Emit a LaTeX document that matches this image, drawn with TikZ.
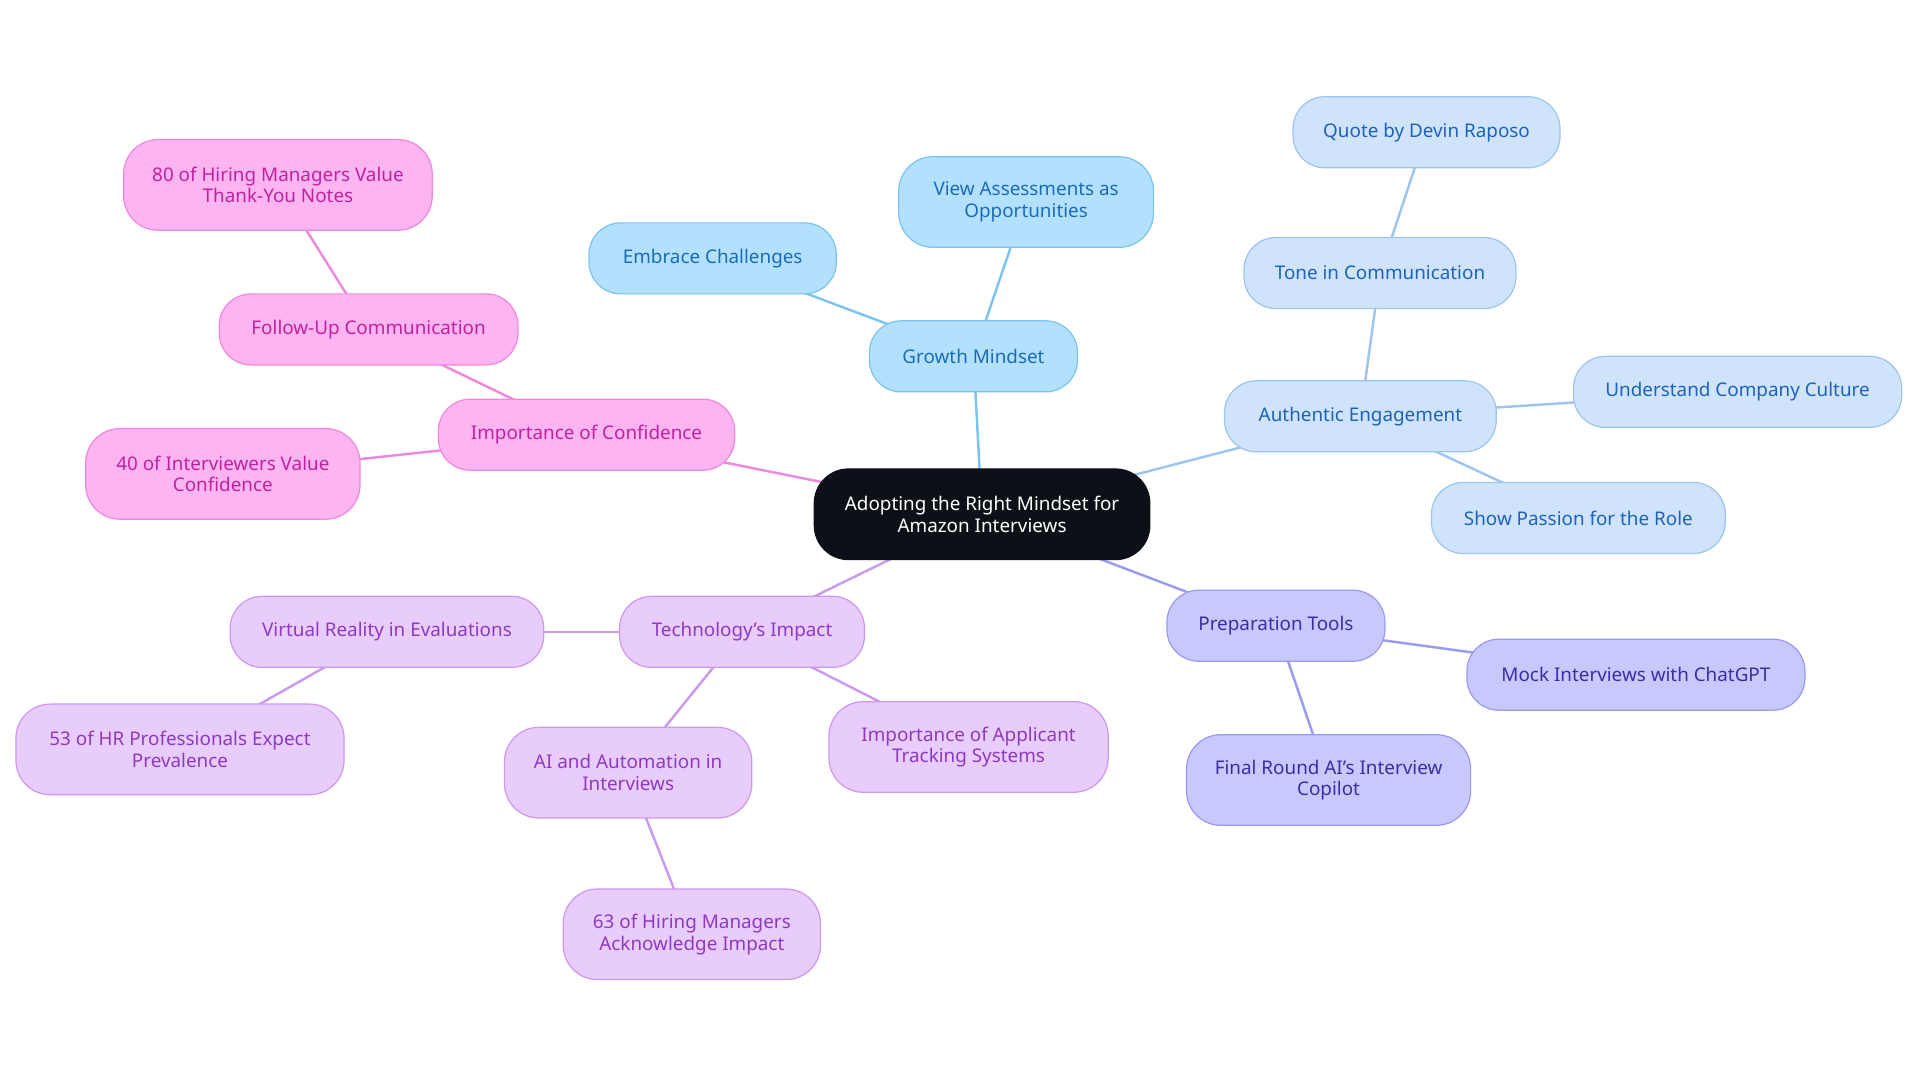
\documentclass[tikz,border=0pt]{standalone}
\usepackage{fontspec}
\setmainfont{Noto Sans}
\usetikzlibrary{backgrounds}
\begin{document}
\begin{tikzpicture}[x=0.5pt,y=-0.5pt,
 base/.style={draw,rectangle,rounded corners=13pt,align=center,font=\fontsize{7.7}{8.8}\selectfont,line width=0.5pt,inner sep=0pt,minimum height=29pt},
 two/.style={minimum height=37pt,rounded corners=14pt},
 cen/.style={base,fill=c0,draw=c0,text=white,minimum height=37pt,rounded corners=14pt},
 gm/.style={base,fill=g1,draw=g2,text=g3},
 ae/.style={base,fill=a1,draw=a2,text=a3},
 pt/.style={base,fill=p1,draw=p2,text=p3},
 te/.style={base,fill=t1,draw=t2,text=t3},
 co/.style={base,fill=o1,draw=o2,text=o3},
 l/.style={line width=1pt}]
\definecolor{c0}{HTML}{0D1117}
\definecolor{g1}{HTML}{B3E0FD}\definecolor{g2}{HTML}{7CC4F0}\definecolor{g3}{HTML}{1A6DB5}
\definecolor{a1}{HTML}{CFE3FB}\definecolor{a2}{HTML}{9EC5EE}\definecolor{a3}{HTML}{1E63B8}
\definecolor{p1}{HTML}{C7C8FC}\definecolor{p2}{HTML}{9A9AF0}\definecolor{p3}{HTML}{3730A3}
\definecolor{t1}{HTML}{E8CCFB}\definecolor{t2}{HTML}{CC99EE}\definecolor{t3}{HTML}{8E3AC0}
\definecolor{o1}{HTML}{FDB5F2}\definecolor{o2}{HTML}{EE88DD}\definecolor{o3}{HTML}{C0229F}
\useasboundingbox (0,0) rectangle (1568,884);
\node[cen,minimum width=137pt] (c) at (802,420) {Adopting the Right Mindset for\\Amazon Interviews};
\node[gm,minimum width=85pt] (gm) at (795,291) {Growth Mindset};
\node[gm,minimum width=101pt] (ec) at (582,211) {Embrace Challenges};
\node[gm,two,minimum width=104pt] (va) at (838,165) {View Assessments as\\Opportunities};
\node[ae,minimum width=111pt] (ae) at (1111,340) {Authentic Engagement};
\node[ae,minimum width=111pt] (tc) at (1127,223) {Tone in Communication};
\node[ae,minimum width=109pt] (qd) at (1165,108) {Quote by Devin Raposo};
\node[ae,minimum width=134pt] (uc) at (1419,320) {Understand Company Culture};
\node[ae,minimum width=120pt] (sp) at (1289,423) {Show Passion for the Role};
\node[pt,minimum width=89pt] (pt) at (1042,511) {Preparation Tools};
\node[pt,minimum width=138pt] (mi) at (1336,551) {Mock Interviews with ChatGPT};
\node[pt,two,minimum width=116pt] (fr) at (1085,637) {Final Round AI's Interview\\Copilot};
\node[te,minimum width=100pt] (ti) at (606,516) {Technology's Impact};
\node[te,minimum width=128pt] (vr) at (316,516) {Virtual Reality in Evaluations};
\node[te,two,minimum width=134pt] (hr) at (147,612) {53 of HR Professionals Expect\\Prevalence};
\node[te,two,minimum width=101pt] (ai) at (513,631) {AI and Automation in\\Interviews};
\node[te,two,minimum width=105pt] (hm) at (565,763) {63 of Hiring Managers\\Acknowledge Impact};
\node[te,two,minimum width=114pt] (at) at (791,610) {Importance of Applicant\\Tracking Systems};
\node[co,minimum width=121pt] (ic) at (479,355) {Importance of Confidence};
\node[co,minimum width=122pt] (fu) at (301,269) {Follow-Up Communication};
\node[co,two,minimum width=126pt] (tn) at (227,151) {80 of Hiring Managers Value\\Thank-You Notes};
\node[co,two,minimum width=112pt] (iv) at (182,387) {40 of Interviewers Value\\Confidence};
\begin{scope}[on background layer]
\draw[l,g2] (c.center) -- (gm.center); \draw[l,g2] (gm.center) -- (ec.center); \draw[l,g2] (gm.center) -- (va.center);
\draw[l,a2] (c.center) -- (ae.center); \draw[l,a2] (ae.center) -- (tc.center); \draw[l,a2] (tc.center) -- (qd.center); \draw[l,a2] (ae.center) -- (uc.center); \draw[l,a2] (ae.center) -- (sp.center);
\draw[l,p2] (c.center) -- (pt.center); \draw[l,p2] (pt.center) -- (mi.center); \draw[l,p2] (pt.center) -- (fr.center);
\draw[l,t2] (c.center) -- (ti.center); \draw[l,t2] (ti.center) -- (vr.center); \draw[l,t2] (vr.center) -- (hr.center); \draw[l,t2] (ti.center) -- (ai.center); \draw[l,t2] (ai.center) -- (hm.center); \draw[l,t2] (ti.center) -- (at.center);
\draw[l,o2] (c.center) -- (ic.center); \draw[l,o2] (ic.center) -- (fu.center); \draw[l,o2] (fu.center) -- (tn.center); \draw[l,o2] (ic.center) -- (iv.center);
\end{scope}
\end{tikzpicture}
\end{document}
